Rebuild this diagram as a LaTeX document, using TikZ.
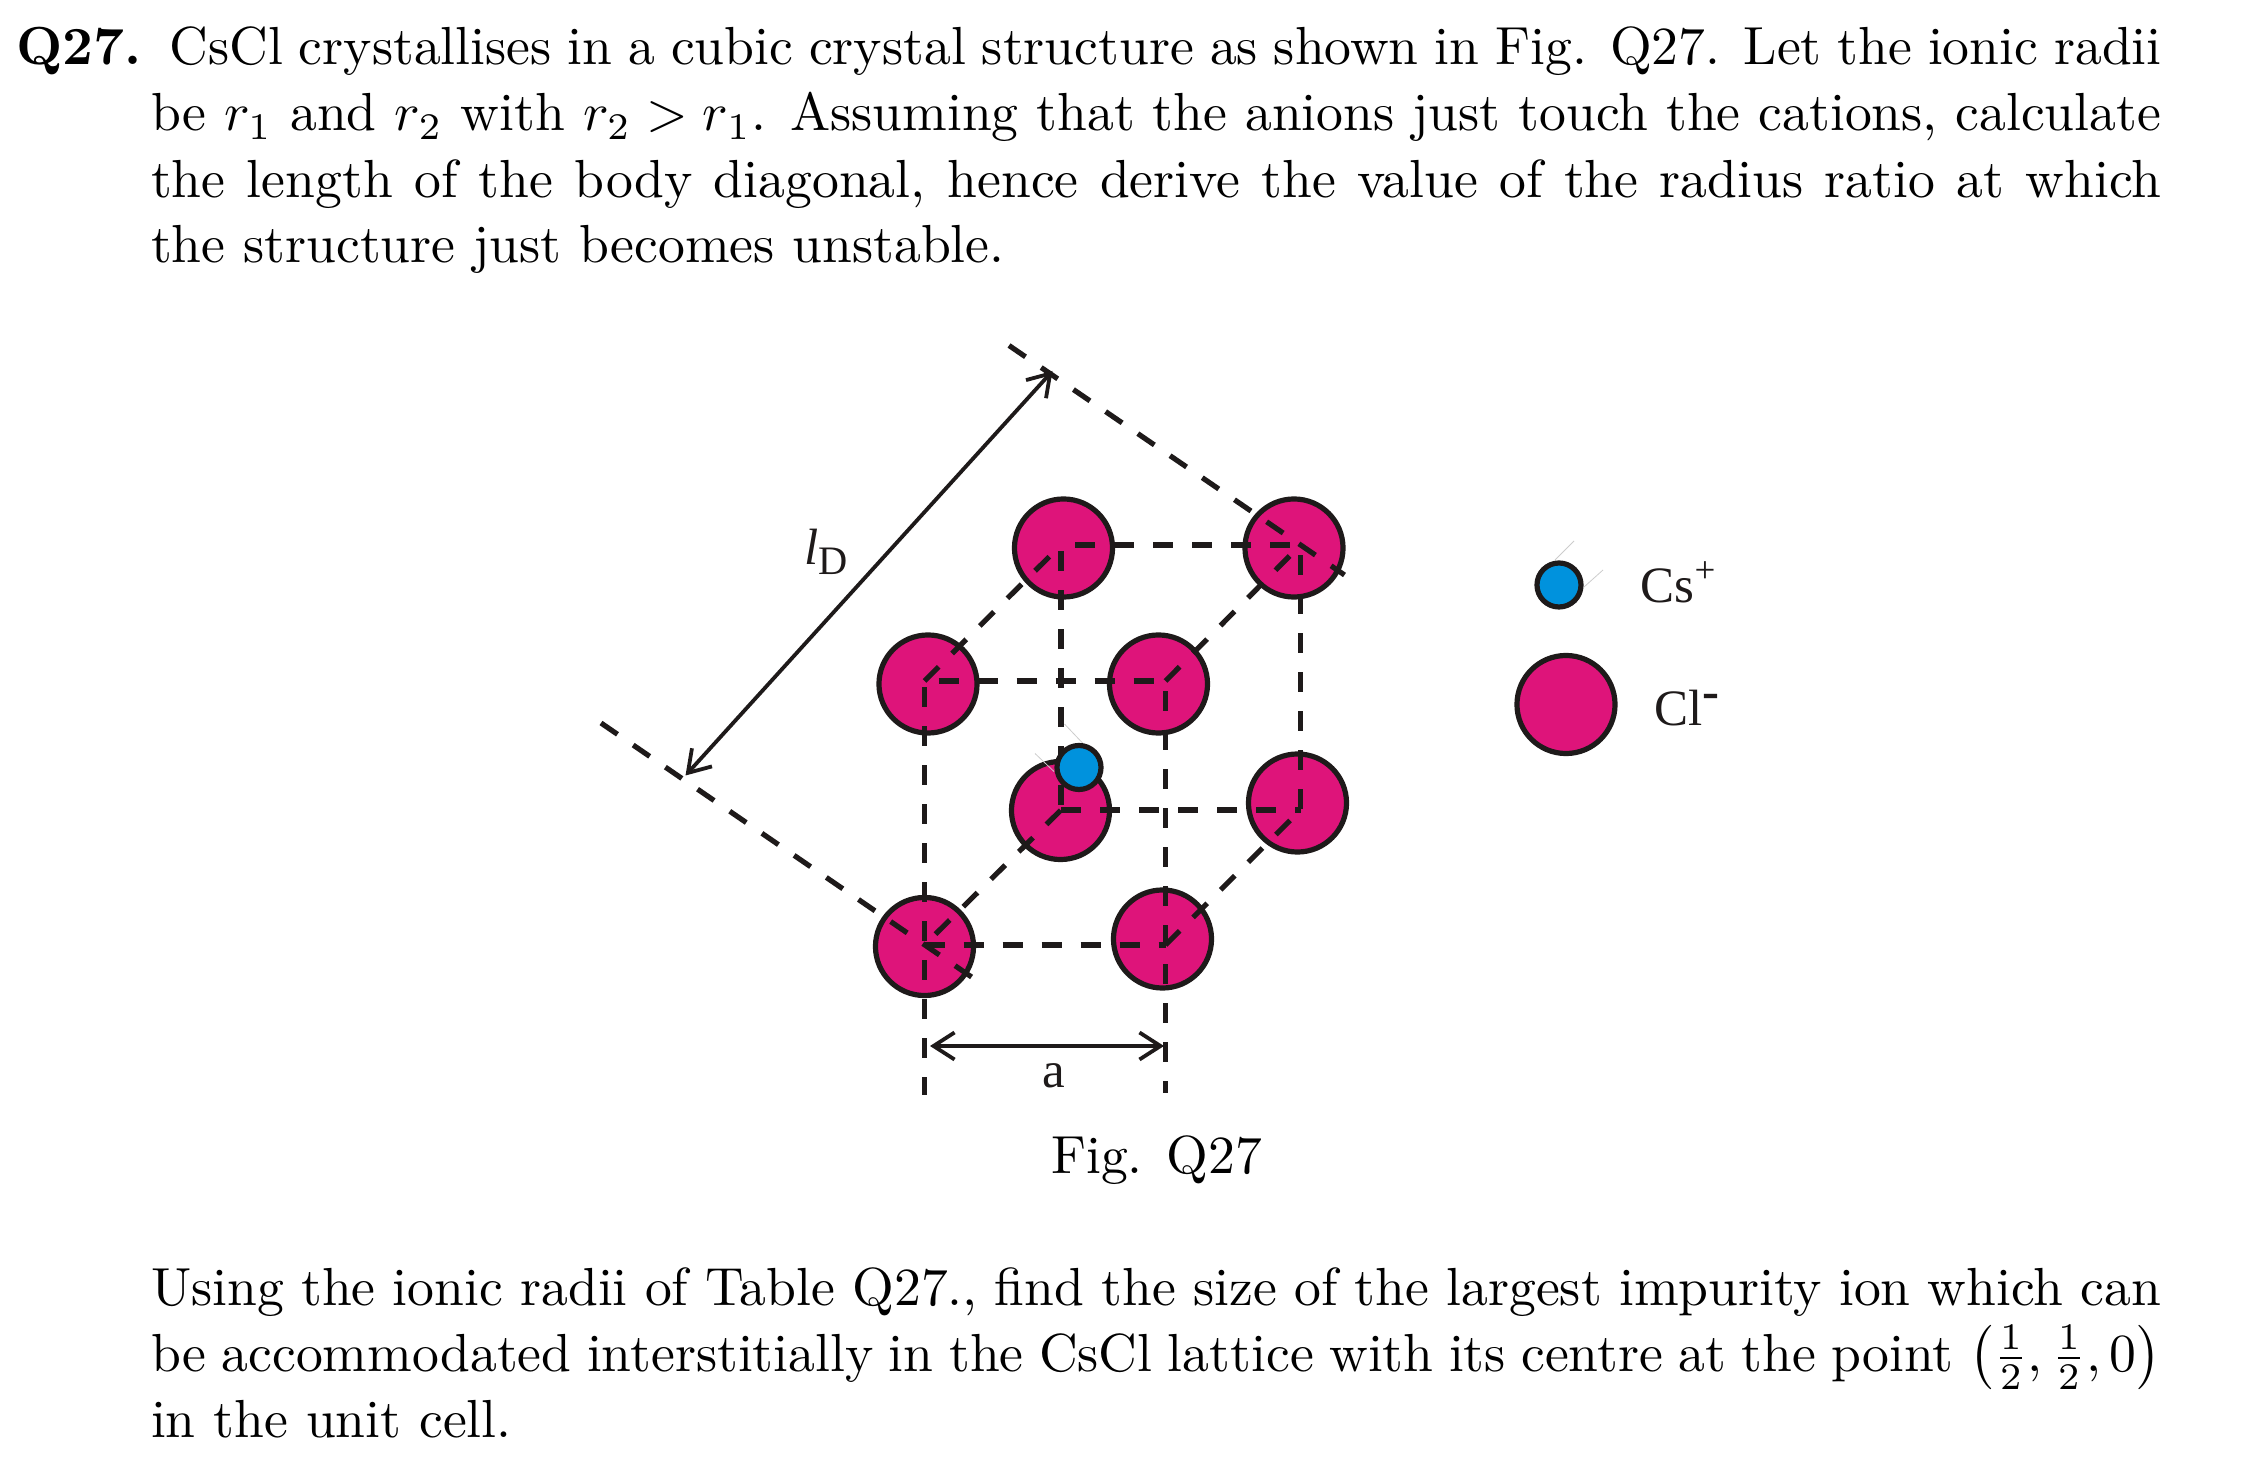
\documentclass[tikz,border=0pt]{standalone}
\usepackage{amsmath,amssymb}
\usepackage{fontspec}
\usepackage{tikz}
\usetikzlibrary{arrows.meta}
\newfontfamily\figfont{Liberation Serif}
\definecolor{clpink}{RGB}{222,20,122}
\definecolor{csblue}{RGB}{0,146,221}
\definecolor{inkblack}{RGB}{30,26,26}
\newcommand{\figsize}{\fontsize{14.5}{17}\selectfont\figfont}

\begin{document}
\begin{tikzpicture}[x=0.01cm,y=-0.01cm]
      \useasboundingbox (0,0) rectangle (2262,1467);
      \tikzstyle{every node}=[inner sep=0pt,text=black]
      \tikzstyle{textline}=[anchor=base west,font=\normalsize,scale=1.525,transform shape]
      \tikzstyle{figlabel}=[anchor=base west,font=\figsize,text=inkblack]
      \tikzstyle{clion}=[draw=inkblack,circle,fill=clpink,line width=0.52mm,
			      minimum size=0.98cm]
      \tikzstyle{csion}=[draw=inkblack,circle,fill=csblue,line width=0.52mm,
			      minimum size=0.44cm]
      \tikzstyle{cubeline}=[draw=inkblack,line width=0.52mm,dash pattern=on 0.2cm off 0.19cm]
      \tikzstyle{dimline}=[draw=inkblack,line width=0.38mm,
			      {Straight Barb[length=2.1mm,width=2.7mm]}-{Straight Barb[length=2.1mm,width=2.7mm]}]
      \tikzstyle{ghostline}=[draw=black!20,line width=0.08mm]

      \node (qnum) [textline] at (15.5,65) {\textbf{Q27.}};
      \node (qline1) [textline] at (168.5,65) {\makebox[13.056cm][s]{CsCl crystallises in a cubic crystal structure as shown in Fig. Q27. Let the ionic radii}};
      \node (qline2) [textline] at (150,131) {\makebox[13.174cm][s]{be $r_1$ and $r_2$ with $r_2 > r_1$. Assuming that the anions just touch the cations, calculate}};
      \node (qline3) [textline] at (150,198) {\makebox[13.174cm][s]{the length of the body diagonal, hence derive the value of the radius ratio at which}};
      \node (qline4) [textline] at (150,263) {the structure just becomes unstable.};
      \node (figcap) [textline] at (1050,1173) {Fig. Q27};
      \node (pline1) [textline] at (150,1305) {\makebox[13.174cm][s]{Using the ionic radii of Table Q27., find the size of the largest impurity ion which can}};
      \node (pline2) [textline] at (150,1371) {\makebox[13.174cm][s]{be accommodated interstitially in the CsCl lattice with its centre at the point $\left(\frac{1}{2},\frac{1}{2},0\right)$}};
      \node (pline3) [textline] at (150,1437) {in the unit cell.};

      \node (ion1) [clion] at (924.5,946.5) {};
      \node (ion2) [clion] at (1162.5,939) {};
      \node (ion3) [clion] at (1060.5,810.5) {};
      \node (ion4) [clion] at (1297.5,803) {};
      \node (ion5) [clion] at (928,684) {};
      \node (ion6) [clion] at (1158.5,684) {};
      \node (ion7) [clion] at (1063.5,548) {};
      \node (ion8) [clion] at (1294,548) {};

      \coordinate (fbl) at (924.5,945);
      \coordinate (fbr) at (1165.5,945);
      \coordinate (bbl) at (1061,810);
      \coordinate (bbr) at (1300.5,810);
      \coordinate (ftl) at (924.5,681);
      \coordinate (ftr) at (1165.5,681);
      \coordinate (btl) at (1061,545);
      \coordinate (btr) at (1300.5,545);
      \coordinate (fblend) at (924.5,1095.5);
      \coordinate (fbrend) at (1165.5,1093);
      \coordinate (planea) at (601,723);
      \coordinate (planeb) at (973,978);
      \coordinate (planec) at (1009,345.5);
      \coordinate (planed) at (1344.5,575);
      \coordinate (diaga) at (685.5,775.5);
      \coordinate (diagb) at (1052.5,371);
      \coordinate (aleft) at (930,1046);
      \coordinate (aright) at (1164,1046);

      \draw [cubeline,dash phase=2.5mm] (ftl) -- (ftr);
      \draw [cubeline,dash phase=2.5mm] (btl) -- (btr);
      \draw [cubeline] (bbl) -- (bbr);
      \draw [cubeline] (fbl) -- (fbr);
      \draw [cubeline] (ftl) -- (btl);
      \draw [cubeline] (ftr) -- (btr);
      \draw [cubeline,dash phase=2.35mm] (fbl) -- (bbl);
      \draw [cubeline] (fbr) -- (bbr);
      \draw [cubeline,dash phase=3.3mm] (ftl) -- (fblend);
      \draw [cubeline,dash phase=2.9mm] (ftr) -- (fbrend);
      \draw [cubeline,dash phase=3.3mm] (btl) -- (bbl);
      \draw [cubeline,dash phase=2.9mm] (btr) -- (bbr);
      \draw [cubeline] (planea) -- (planeb);
      \draw [cubeline] (planec) -- (planed);
      \draw [dimline] (diaga) -- (diagb);
      \draw [dimline] (aleft) -- (aright);

      \coordinate (ghosta) at (1035,753.5);
      \coordinate (ghostb) at (1054,771.5);
      \coordinate (ghostc) at (1064.5,724);
      \coordinate (ghostd) at (1083,743.5);
      \draw [ghostline] (ghosta) -- (ghostb);
      \draw [ghostline] (ghostc) -- (ghostd);
      \node (csmid) [csion] at (1079,767.5) {};

      \node (ldlabel) [figlabel] at (804,565) {\textit{l}\raisebox{-2.8pt}{\fontsize{11.5}{12}\selectfont D}};
      \node (alabel) [figlabel] at (1042,1087) {a};

      \coordinate (ghoste) at (1555,560);
      \coordinate (ghostf) at (1574,541);
      \coordinate (ghostg) at (1584,587);
      \coordinate (ghosth) at (1603,570);
      \draw [ghostline] (ghoste) -- (ghostf);
      \draw [ghostline] (ghostg) -- (ghosth);
      \node (cskey) [csion] at (1559,585) {};
      \node (clkey) [clion] at (1566,704.5) {};
      \node (cslabel) [figlabel] at (1640,603) {Cs\raisebox{5.8pt}{\fontsize{10.5}{12}\selectfont +}};
      \node (cllabel) [figlabel] at (1654,726) {Cl\raisebox{5pt}{\textbf{-}}};
  \end{tikzpicture}
\end{document}
